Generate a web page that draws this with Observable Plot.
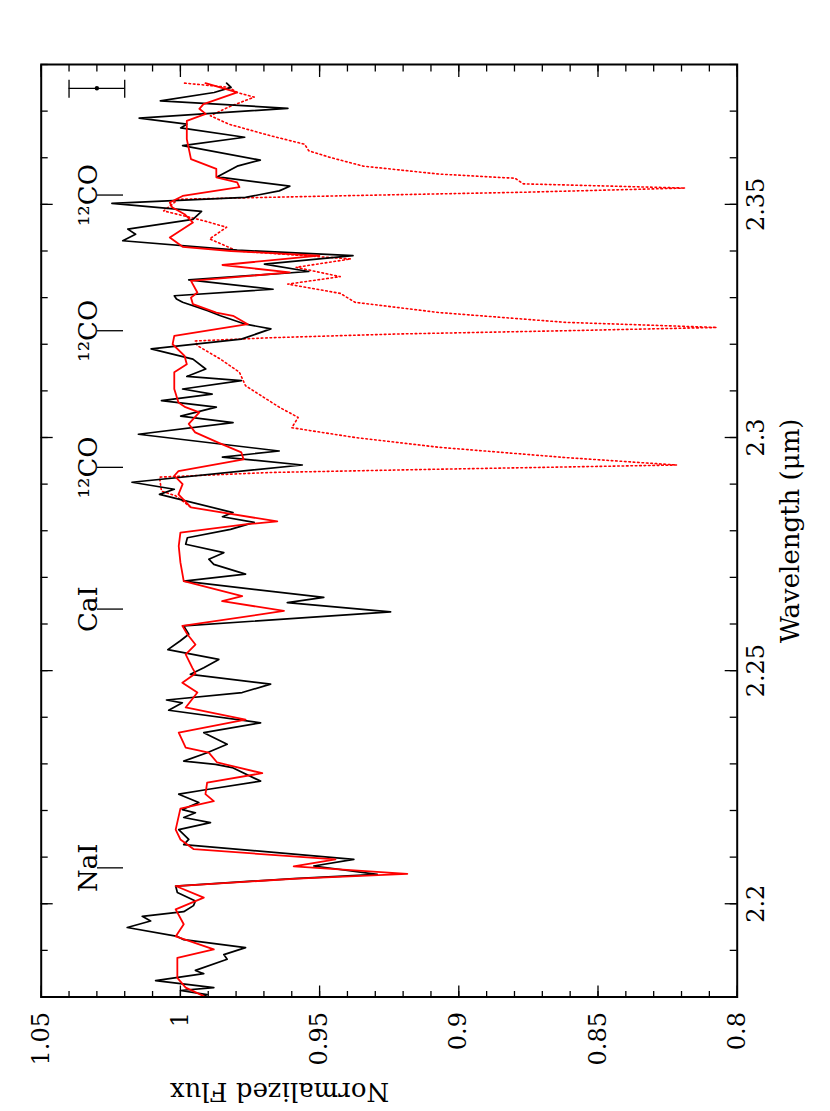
<!DOCTYPE html>
<html>
<head>
<meta charset="utf-8">
<script src="https://cdn.jsdelivr.net/npm/d3@7"></script>
<script src="https://cdn.jsdelivr.net/npm/@observablehq/plot@0.6"></script>
<style>
html, body { margin: 0; padding: 0; background: #fff; }
#wrap { position: relative; width: 830px; height: 1111px; overflow: hidden; background: #fff; }
#chart { position: absolute; left: 0; top: 0; width: 1111px; height: 830px;
         transform-origin: 0 0; transform: translate(0px, 1111px) rotate(-90deg); }
</style>
</head>
<body>
<div id="wrap"><div id="chart"></div></div>
<script>
// ---------------- data (wavelength in micron, normalized flux) ----------------
const blackWl = [2.3760, 2.3751, 2.3740, 2.3722, 2.3706, 2.3685, 2.3672, 2.3664, 2.3644, 2.3626,
  2.3595, 2.3582, 2.3559, 2.3539, 2.3529, 2.3515, 2.3502, 2.3485, 2.3468, 2.3447,
  2.3436, 2.3422, 2.3402, 2.3390, 2.3372, 2.3356, 2.3338, 2.3318, 2.3304, 2.3297,
  2.3290, 2.3272, 2.3261, 2.3243, 2.3233, 2.3211, 2.3190, 2.3168, 2.3147, 2.3131,
  2.3122, 2.3104, 2.3093, 2.3079, 2.3065, 2.3046, 2.3032, 2.3007, 2.2971, 2.2958,
  2.2941, 2.2904, 2.2889, 2.2878, 2.2839, 2.2830, 2.2818, 2.2803, 2.2785, 2.2771,
  2.2753, 2.2739, 2.2728, 2.2707, 2.2692, 2.2657, 2.2646, 2.2626, 2.2596, 2.2578,
  2.2564, 2.2545, 2.2524, 2.2506, 2.2492, 2.2471, 2.2453, 2.2437, 2.2431, 2.2415,
  2.2388, 2.2367, 2.2342, 2.2324, 2.2306, 2.2299, 2.2292, 2.2263, 2.2245, 2.2235,
  2.2217, 2.2202, 2.2195, 2.2185, 2.2174, 2.2159, 2.2138, 2.2127, 2.2095, 2.2081,
  2.2063, 2.2054, 2.2038, 2.2024, 2.2006, 2.1996, 2.1983, 2.1973, 2.1963, 2.1949,
  2.1930, 2.1923, 2.1906, 2.1891, 2.1881, 2.1857, 2.1850, 2.1835, 2.1820, 2.1814,
  2.1805, 2.1800];
const blackFlux = [0.9834, 0.9818, 0.9879, 1.0072, 0.9614, 1.0148, 0.9977, 0.9999, 0.9769, 0.9992,
  0.9713, 0.9796, 0.9867, 0.9607, 0.9645, 0.9766, 1.0246, 0.9924, 0.9955, 1.0189,
  1.0161, 1.0207, 0.9796, 0.9380, 0.9698, 0.9539, 0.9970, 0.9667, 1.0022, 1.0014,
  0.9992, 0.9902, 0.9856, 0.9766, 0.9675, 0.9781, 1.0105, 0.9955, 0.9909, 0.9977,
  0.9781, 0.9992, 0.9886, 1.0068, 0.9871, 0.9999, 0.9811, 1.0151, 0.9645, 0.9849,
  0.9562, 1.0174, 1.0022, 1.0075, 0.9811, 0.9849, 0.9735, 0.9820, 0.9975, 0.9981,
  0.9844, 0.9898, 0.9880, 0.9766, 0.9988, 0.9485, 0.9616, 0.9245, 0.9988, 0.9970,
  1.0000, 1.0045, 0.9862, 0.9916, 0.9964, 0.9676, 0.9778, 1.0050, 0.9993, 1.0042,
  0.9712, 0.9916, 0.9832, 0.9904, 0.9988, 0.9874, 0.9814, 0.9712, 0.9904, 1.0006,
  0.9934, 0.9993, 0.9946, 0.9988, 0.9892, 1.0006, 0.9970, 0.9988, 0.9377, 0.9521,
  0.9293, 0.9593, 1.0017, 1.0011, 0.9946, 0.9953, 0.9988, 1.0137, 1.0107, 1.0191,
  1.0011, 0.9988, 0.9766, 0.9844, 0.9832, 0.9946, 0.9916, 1.0089, 0.9880, 1.0000,
  0.9904, 0.9928];

const redWl = [2.3760, 2.3740, 2.3715, 2.3705, 2.3694, 2.3679, 2.3640, 2.3597, 2.3576, 2.3558,
  2.3547, 2.3537, 2.3518, 2.3504, 2.3494, 2.3479, 2.3461, 2.3429, 2.3409, 2.3400,
  2.3390, 2.3370, 2.3354, 2.3336, 2.3311, 2.3300, 2.3286, 2.3268, 2.3261, 2.3243,
  2.3218, 2.3200, 2.3175, 2.3157, 2.3140, 2.3104, 2.3075, 2.3065, 2.3054, 2.3029,
  2.3011, 2.2989, 2.2968, 2.2953, 2.2928, 2.2918, 2.2900, 2.2878, 2.2850, 2.2820,
  2.2814, 2.2796, 2.2767, 2.2732, 2.2692, 2.2660, 2.2649, 2.2628, 2.2596, 2.2578,
  2.2556, 2.2535, 2.2506, 2.2494, 2.2474, 2.2453, 2.2421, 2.2395, 2.2367, 2.2335,
  2.2324, 2.2303, 2.2280, 2.2260, 2.2235, 2.2220, 2.2204, 2.2159, 2.2138, 2.2117,
  2.2095, 2.2080, 2.2064, 2.2054, 2.2038, 2.2013, 2.1988, 2.1956, 2.1930, 2.1902,
  2.1884, 2.1841, 2.1820, 2.1802];
const redFlux = [0.9910, 0.9796, 0.9917, 0.9932, 0.9909, 0.9977, 0.9977, 0.9962, 0.9871, 0.9871,
  0.9796, 0.9788, 0.9992, 1.0038, 1.0030, 0.9985, 0.9955, 1.0038, 0.9992, 0.9818,
  0.9501, 0.9849, 0.9607, 0.9962, 0.9939, 0.9962, 0.9955, 0.9871, 0.9811, 0.9758,
  1.0022, 1.0028, 0.9985, 0.9977, 1.0022, 1.0022, 1.0007, 0.9982, 0.9932, 0.9970,
  0.9947, 0.9864, 0.9781, 0.9773, 1.0007, 1.0022, 0.9992, 1.0007, 0.9962, 0.9652,
  0.9760, 1.0000, 1.0006, 1.0000, 0.9988, 0.9778, 0.9850, 0.9628, 0.9993, 0.9975,
  0.9946, 0.9981, 0.9957, 0.9946, 0.9993, 0.9939, 0.9981, 0.9766, 1.0006, 0.9981,
  0.9898, 0.9868, 0.9706, 0.9904, 0.9910, 0.9880, 1.0000, 1.0017, 1.0000, 0.9952,
  0.9443, 0.9593, 0.9185, 0.9580, 1.0017, 0.9916, 1.0017, 0.9988, 1.0017, 0.9880,
  1.0011, 1.0011, 0.9981, 0.9916];

const dotWl = [2.3760, 2.3751, 2.3740, 2.3730, 2.3709, 2.3690, 2.3672, 2.3647, 2.3629, 2.3615,
  2.3601, 2.3582, 2.3565, 2.3556, 2.3544, 2.3535, 2.3526, 2.3519, 2.3511, 2.3486,
  2.3465, 2.3451, 2.3426, 2.3400, 2.3383, 2.3365, 2.3345, 2.3329, 2.3309, 2.3290,
  2.3268, 2.3247, 2.3236, 2.3229, 2.3222, 2.3214, 2.3207, 2.3197, 2.3168, 2.3140,
  2.3111, 2.3065, 2.3043, 2.3021, 2.3000, 2.2979, 2.2957, 2.2941, 2.2932, 2.2925,
  2.2915, 2.2885, 2.2875, 2.2850];
const dotFlux = [0.9985, 0.9826, 0.9796, 0.9735, 0.9826, 0.9892, 0.9826, 0.9675, 0.9554, 0.9539,
  0.9464, 0.9343, 0.9071, 0.8798, 0.8768, 0.8187, 0.8768, 0.9373, 1.0007, 1.0060,
  0.9917, 0.9834, 0.9895, 0.9796, 0.9388, 0.9584, 0.9426, 0.9614, 0.9425, 0.9373,
  0.9071, 0.8617, 0.8073, 0.8617, 0.9221, 0.9675, 0.9947, 0.9939, 0.9856, 0.9788,
  0.9766, 0.9645, 0.9577, 0.9600, 0.9373, 0.9071, 0.8617, 0.8217, 0.9071, 0.9675,
  1.0075, 1.0068, 1.0017, 0.9962];

// line identifications
const lineWl = [2.2077, 2.2632, 2.2936, 2.3229, 2.3520];
const lineNames = ["NaI", "CaI", "¹²CO", "¹²CO", "¹²CO"];

// typical error bar
const errWl = [2.3749];
const errFlux = [1.03];
const errHalf = [0.01];

// axes
const wlTicks = [2.2, 2.25, 2.3, 2.35];
const wlTickLabels = ["2.2", "2.25", "2.3", "2.35"];
const fluxTicks = [0.8, 0.85, 0.9, 0.95, 1.0, 1.05];
const fluxTickLabels = ["0.8", "0.85", "0.9", "0.95", "1", "1.05"];
const wlDomain = [2.18, 2.38];
const fluxDomain = [0.8, 1.05];
const xLabel = "Wavelength (μm)";
const yLabel = "Normalized Flux";

// ---------------- layout (landscape plot, rotated -90deg on the page) ----------------
const W = 1111, H = 830;
const mL = 113.5, mR = 65, mT = 40.7, mB = 93.3;
const innerW = W - mL - mR, innerH = H - mT - mB;
const font = "DejaVu Serif";
const RED = "#ff0000";

const wlMinor = d3.range(2.18, 2.3805, 0.01);
const fluxMinor = d3.range(0.80, 1.0505, 0.01);

const black = blackWl.map((w, i) => ({w, f: blackFlux[i]}));
const red = redWl.map((w, i) => ({w, f: redFlux[i]}));
const dotted = dotWl.map((w, i) => ({w, f: dotFlux[i]}));
const err = errWl.map((w, i) => ({w, f: errFlux[i], lo: errFlux[i] - errHalf[i], hi: errFlux[i] + errHalf[i]}));
const caps = err.flatMap(d => [{w: d.w, f: d.lo}, {w: d.w, f: d.hi}]);
const ids = lineWl.map((w, i) => ({w, name: lineNames[i]}));

const chart = Plot.plot({
  width: W, height: H,
  marginLeft: mL, marginRight: mR, marginTop: mT, marginBottom: mB,
  style: {background: "white", color: "black", fontFamily: font, overflow: "visible"},
  x: {domain: wlDomain, axis: null},
  y: {domain: fluxDomain, axis: null},
  marks: [
    Plot.line(dotted, {x: "w", y: "f", stroke: RED, strokeWidth: 1.6, strokeDasharray: "1.6,2.8"}),
    Plot.line(black, {x: "w", y: "f", stroke: "black", strokeWidth: 1.7, strokeLinejoin: "round"}),
    Plot.line(red, {x: "w", y: "f", stroke: RED, strokeWidth: 1.8, strokeLinejoin: "round"}),

    // inward ticks on all four sides
    Plot.ruleX(wlMinor, {x: d => d, insetTop: innerH - 7, stroke: "black", strokeWidth: 1.3}),
    Plot.ruleX(wlMinor, {x: d => d, insetBottom: innerH - 7, stroke: "black", strokeWidth: 1.3}),
    Plot.ruleX(wlTicks, {x: d => d, insetTop: innerH - 12, stroke: "black", strokeWidth: 1.3}),
    Plot.ruleX(wlTicks, {x: d => d, insetBottom: innerH - 12, stroke: "black", strokeWidth: 1.3}),
    Plot.ruleY(fluxMinor, {y: d => d, insetLeft: innerW - 6.5, stroke: "black", strokeWidth: 1.3}),
    Plot.ruleY(fluxMinor, {y: d => d, insetRight: innerW - 6.5, stroke: "black", strokeWidth: 1.3}),
    Plot.ruleY(fluxTicks, {y: d => d, insetLeft: innerW - 12, stroke: "black", strokeWidth: 1.3}),
    Plot.ruleY(fluxTicks, {y: d => d, insetRight: innerW - 12, stroke: "black", strokeWidth: 1.3}),
    Plot.frame({stroke: "black", strokeWidth: 2}),

    // tick labels
    Plot.text(wlTicks, {x: d => d, text: (d, i) => wlTickLabels[i], frameAnchor: "bottom",
      lineAnchor: "top", dy: 10, fontSize: 24, fontFamily: font, fill: "black"}),
    Plot.text(fluxTicks, {y: d => d, text: (d, i) => fluxTickLabels[i], frameAnchor: "left",
      textAnchor: "end", dx: -15, fontSize: 24, fontFamily: font, fill: "black"}),

    // axis titles
    Plot.text([xLabel], {frameAnchor: "bottom", lineAnchor: "top", dy: 43, fontSize: 26,
      fontFamily: font, fill: "black"}),
    Plot.text([yLabel], {frameAnchor: "left", lineAnchor: "top", rotate: -90, dx: -104,
      fontSize: 26, fontFamily: font, fill: "black"}),

    // line identifications
    Plot.ruleX(ids, {x: "w", insetTop: 56.3, insetBottom: innerH - 82.3, stroke: "black", strokeWidth: 1.3}),
    Plot.text(ids, {x: "w", text: "name", frameAnchor: "top", lineAnchor: "top", dy: 37,
      fontSize: 26, fontFamily: font, fill: "black"}),

    // error bar
    Plot.ruleX(err, {x: "w", y1: "lo", y2: "hi", stroke: "black", strokeWidth: 1.3}),
    Plot.ruleY(caps, {y: "f", x1: "w", x2: "w", insetLeft: -9, insetRight: -9, stroke: "black", strokeWidth: 1.3}),
    Plot.dot(err, {x: "w", y: "f", r: 2.2, fill: "black", stroke: null})
  ]
});
document.getElementById("chart").appendChild(chart);
</script>
</body>
</html>
